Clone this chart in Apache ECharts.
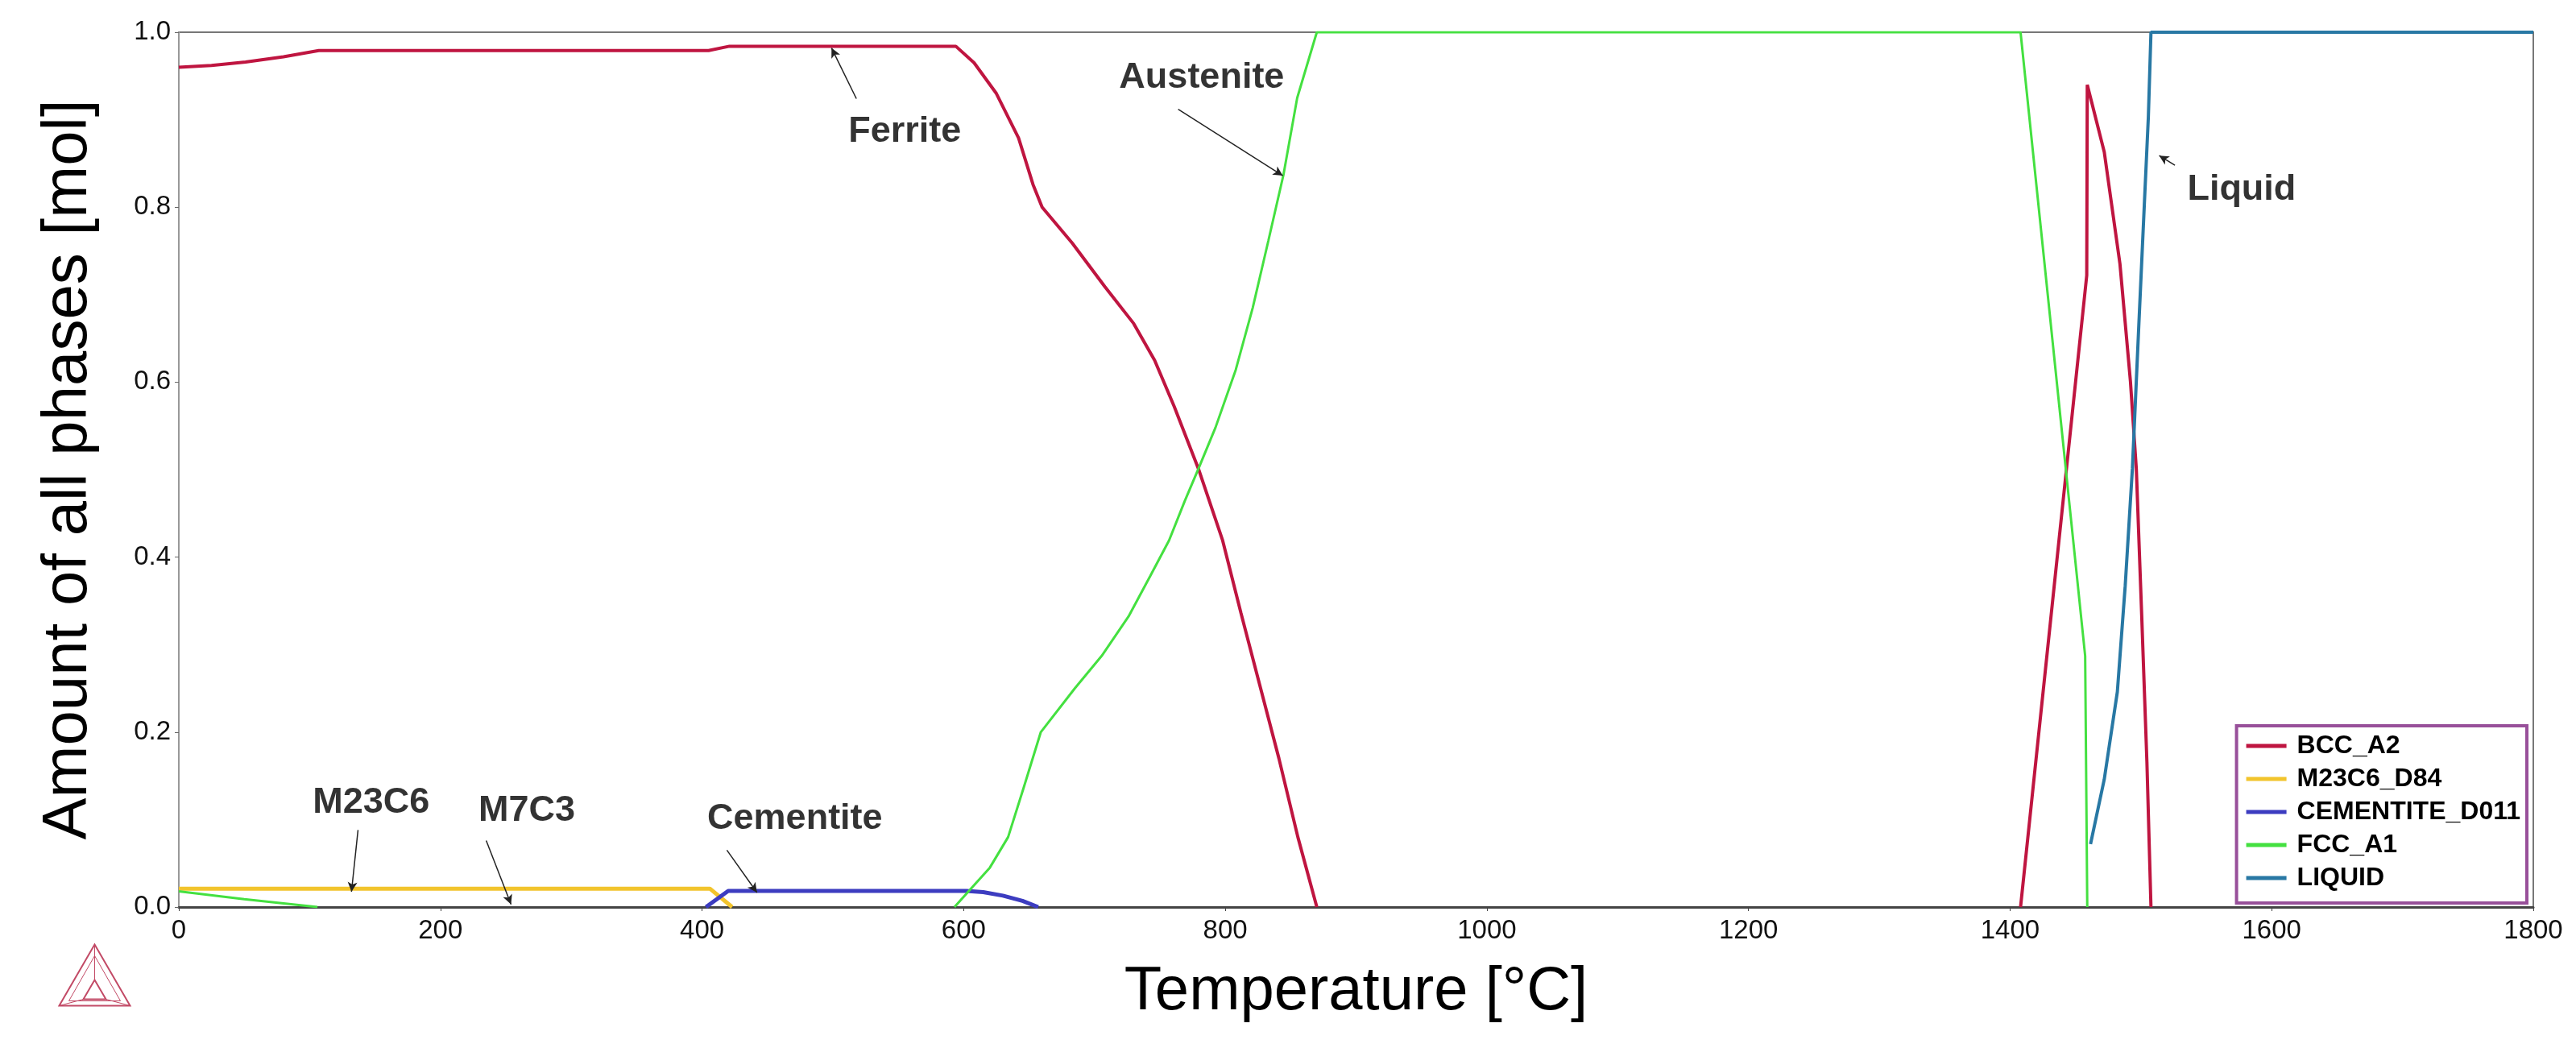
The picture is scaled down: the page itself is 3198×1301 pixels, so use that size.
<!DOCTYPE html>
<html>
<head>
<meta charset="utf-8">
<title>Amount of all phases</title>
<script src="https://cdn.jsdelivr.net/npm/echarts@6/dist/echarts.min.js"></script>
<style>
  html, body { margin: 0; padding: 0; background: #ffffff; }
  #chart { width: 3198px; height: 1301px; }
</style>
</head>
<body>
<div id="chart"></div>
<script>
// temperature [°C] / amount [mol] pairs, null breaks a curve
const bccA2 = [
  [0, 0.960], [25, 0.962], [51, 0.966], [80, 0.972], [107, 0.979],
  [405, 0.979], [421, 0.984], [594, 0.984], [608, 0.965], [625, 0.930],
  [642, 0.879], [653, 0.826], [660, 0.800], [683, 0.759], [708, 0.709],
  [730, 0.667], [746, 0.625], [761, 0.572], [779.5, 0.501], [798, 0.419],
  [812, 0.336], [826.5, 0.253], [841, 0.170], [855.5, 0.080], [870, 0],
  null,
  [1408, 0], [1458.6, 0.722], [1459, 0.940], [1472, 0.863], [1484, 0.735],
  [1492, 0.601], [1496.5, 0.501], [1500.6, 0.334], [1504.6, 0.166], [1507.7, 0]
];
const m23c6D84 = [[0, 0.021], [406, 0.021], [423, 0]];
const cementiteD011 = [
  [403, 0], [420, 0.0185], [602, 0.0185], [615, 0.017], [630, 0.013],
  [645, 0.007], [657, 0]
];
const fccA1 = [
  [0, 0.018], [50, 0.009], [106, 0],
  null,
  [593, 0], [605, 0.020], [620, 0.045], [634, 0.080], [646, 0.137],
  [659, 0.200], [685, 0.250], [705.5, 0.287], [726, 0.332], [742.5, 0.378],
  [757, 0.419], [769, 0.464], [779.5, 0.501], [792.5, 0.548], [808, 0.614],
  [821, 0.685], [833, 0.762], [844.5, 0.837], [855, 0.925], [870, 1.0],
  [1408, 1.0], [1457.4, 0.287], [1459, 0]
];
const liquid = [
  [1461.5, 0.072], [1472, 0.146], [1482, 0.246], [1488, 0.367], [1493.5, 0.501],
  [1498.5, 0.668], [1502.6, 0.802], [1505.7, 0.903], [1507.7, 1.0], [1800, 1.0]
];

const legendNames = ["BCC_A2", "M23C6_D84", "CEMENTITE_D011", "FCC_A1", "LIQUID"];
const xTicks = [0, 200, 400, 600, 800, 1000, 1200, 1400, 1600, 1800];
const yTicks = [0.0, 0.2, 0.4, 0.6, 0.8, 1.0];

// annotation texts and their arrows (tail -> head), in data units
const noteTexts = [
  { name: "Ferrite", value: [555, 0.886] },
  { name: "Austenite", value: [782, 0.948] },
  { name: "Liquid", value: [1577, 0.820] },
  { name: "M23C6", value: [147, 0.119] },
  { name: "M7C3", value: [266, 0.110] },
  { name: "Cementite", value: [471, 0.101] }
];
const noteArrows = [
  [[518, 0.924], [499, 0.982]],
  [[764, 0.912], [844, 0.836]],
  [[1526, 0.848], [1514, 0.859]],
  [[137, 0.088], [132, 0.0175]],
  [[235, 0.076], [254, 0.003]],
  [[419, 0.065], [442, 0.0166]]
];

const chart = echarts.init(document.getElementById("chart"));

const line = (name, data, color, width) => ({
  name: name,
  type: "line",
  data: data,
  symbol: "none",
  connectNulls: false,
  lineStyle: { color: color, width: width },
  itemStyle: { color: color },
  z: 3
});

chart.setOption({
  animation: false,
  backgroundColor: "#ffffff",
  textStyle: { fontFamily: "Liberation Sans, Arial, sans-serif" },
  grid: {
    left: 222,
    right: 53,
    top: 40,
    bottom: 175,
    show: true,
    borderColor: "#777777",
    borderWidth: 2
  },
  legend: {
    data: legendNames,
    orient: "vertical",
    right: 61,
    top: 901,
    icon: "rect",
    itemWidth: 50,
    itemHeight: 5,
    itemGap: 7,
    padding: [8, 8, 14, 12],
    backgroundColor: "#ffffff",
    borderColor: "#98509a",
    borderWidth: 4,
    borderRadius: 0,
    textStyle: {
      color: "#000000",
      fontSize: 32,
      fontWeight: "bold",
      lineHeight: 34,
      padding: [0, 0, 0, 8],
      fontFamily: "Liberation Sans, Arial, sans-serif"
    }
  },
  xAxis: {
    type: "value",
    min: xTicks[0],
    max: xTicks[xTicks.length - 1],
    interval: 200,
    name: "Temperature [°C]",
    nameLocation: "middle",
    nameGap: 68,
    nameTextStyle: { fontSize: 76, color: "#000000" },
    axisLine: { onZero: false, lineStyle: { color: "#444444", width: 3 } },
    axisTick: { show: true, length: 5, lineStyle: { color: "#444444" } },
    axisLabel: {
      fontSize: 33,
      color: "#111111",
      margin: 13,
      formatter: (v) => String(v)
    },
    splitLine: { show: false }
  },
  yAxis: {
    type: "value",
    min: yTicks[0],
    max: yTicks[yTicks.length - 1],
    interval: 0.2,
    name: "Amount of all phases [mol]",
    nameLocation: "middle",
    nameGap: 98,
    nameTextStyle: { fontSize: 78, color: "#000000" },
    axisLine: { show: true, onZero: false, lineStyle: { color: "#999999", width: 2 } },
    axisTick: { show: true, length: 5, lineStyle: { color: "#666666" } },
    axisLabel: {
      fontSize: 33,
      color: "#111111",
      margin: 10,
      formatter: (v) => Number(v).toFixed(1)
    },
    splitLine: { show: false }
  },
  series: [
    line("BCC_A2", bccA2, "#bf1540", 4),
    line("M23C6_D84", m23c6D84, "#f2c42c", 5),
    line("CEMENTITE_D011", cementiteD011, "#3c3cc0", 5),
    line("FCC_A1", fccA1, "#44e040", 3),
    line("LIQUID", liquid, "#2878a4", 4),
    {
      name: "notes",
      type: "scatter",
      symbolSize: 0,
      silent: true,
      z: 5,
      itemStyle: { color: "#000000" },
      data: noteTexts,
      label: {
        show: true,
        position: "inside",
        formatter: "{b}",
        fontSize: 45,
        fontWeight: "bold",
        color: "#000000",
        textBorderWidth: 0
      },
      markLine: {
        silent: true,
        animation: false,
        symbol: ["none", "arrow"],
        symbolSize: [9, 12],
        label: { show: false },
        lineStyle: { color: "#222222", width: 1.5, type: "solid" },
        data: noteArrows.map((a) => [{ coord: a[0] }, { coord: a[1] }])
      }
    }
  ],
  graphic: [
    {
      type: "group",
      left: 71,
      top: 1170,
      silent: true,
      children: [
        { type: "polygon", shape: { points: [[44, 0], [88, 76], [0, 76]] }, style: { fill: "none", stroke: "#c24a66", lineWidth: 2 } },
        { type: "polygon", shape: { points: [[44, 14], [76, 70], [12, 70]] }, style: { fill: "none", stroke: "#c24a66", lineWidth: 1 } },
        { type: "polygon", shape: { points: [[44, 44], [58, 68], [30, 68]] }, style: { fill: "none", stroke: "#c24a66", lineWidth: 2 } },
        { type: "polyline", shape: { points: [[44, 0], [44, 44]] }, style: { stroke: "#c24a66", lineWidth: 1 } },
        { type: "polyline", shape: { points: [[0, 76], [30, 68]] }, style: { stroke: "#c24a66", lineWidth: 1 } },
        { type: "polyline", shape: { points: [[88, 76], [58, 68]] }, style: { stroke: "#c24a66", lineWidth: 1 } }
      ]
    }
  ]
});

window.addEventListener("resize", () => chart.resize());
</script>
</body>
</html>
